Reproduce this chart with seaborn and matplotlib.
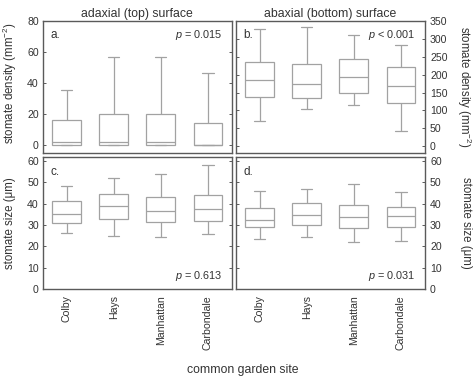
import numpy as np
import pandas as pd
import matplotlib
matplotlib.use("Agg")
import matplotlib.pyplot as plt
import seaborn as sns

# five-number summaries: [min, q1, median, q3, max]
sites = ["Colby", "Hays", "Manhattan", "Carbondale"]

adax_density = [[0, 0, 1.8, 15.9, 35.5],
                [0, 0, 1.8, 19.6, 57.0],
                [0, 0, 1.8, 19.6, 57.0],
                [0, 0, 0.0, 14.2, 46.5]]
abax_density = [[70.6, 138, 186, 236, 329],
                [103, 136, 174, 231, 334],
                [116, 149, 193, 244, 312],
                [41, 120, 169, 221, 285]]
adax_size = [[26.1, 30.8, 35.2, 41.3, 48.3],
             [24.8, 32.8, 38.8, 44.4, 52.2],
             [24.5, 31.3, 36.4, 43.3, 53.9],
             [25.6, 32.0, 37.4, 44.2, 58.1]]
abax_size = [[23.3, 28.9, 32.5, 37.8, 46.1],
             [24.4, 29.9, 34.5, 40.2, 46.7],
             [22.2, 28.5, 33.6, 39.4, 49.1],
             [22.7, 29.1, 34.2, 38.6, 45.6]]

p_labels = ["0.015", "< 0.001", "0.613", "0.031"]
panel_letters = ["a.", "b.", "c.", "d."]


def long_df(summ):
    rows = []
    for site, vals in zip(sites, summ):
        for v in vals:
            rows.append({"site": site, "value": v})
    return pd.DataFrame(rows)


sns.set_style("white")
plt.rcParams["font.family"] = ["Liberation Sans", "DejaVu Sans"]
plt.rcParams["mathtext.fontset"] = "custom"
plt.rcParams["mathtext.rm"] = "Liberation Sans"
plt.rcParams["mathtext.it"] = "Liberation Sans:italic"
plt.rcParams["mathtext.default"] = "regular"

txt = "#333333"
frame = "#5a5a5a"
boxc = "#a2a2a2"

fig = plt.figure(figsize=(4.74, 3.79), dpi=100)
pos = [[0.0907, 0.5963, 0.3977, 0.3470],
       [0.4979, 0.5963, 0.3977, 0.3470],
       [0.0907, 0.2375, 0.3977, 0.3483],
       [0.4979, 0.2375, 0.3977, 0.3483]]
datasets = [adax_density, abax_density, adax_size, abax_size]
ylims = [(-5.5, 80), (-20, 350), (0, 61.9), (0, 61.9)]
yticks = [np.arange(0, 81, 20), np.arange(0, 351, 50),
          np.arange(0, 61, 10), np.arange(0, 61, 10)]

for i in range(4):
    ax = fig.add_axes(pos[i])
    df = long_df(datasets[i])
    sns.boxplot(data=df, x="site", y="value", order=sites, ax=ax,
                whis=(0, 100), width=0.61, color="white", linecolor=boxc,
                linewidth=0.9, showfliers=False, capwidths=0.24)
    ax.set_xlim(-0.5, 3.5)
    ax.set_ylim(*ylims[i])
    ax.set_yticks(yticks[i])
    ax.set_xlabel("")
    ax.set_ylabel("")
    for s in ax.spines.values():
        s.set_color(frame)
        s.set_linewidth(1.0)
    right = i % 2 == 1
    ax.tick_params(axis="y", direction="in", length=2.5, width=0.7,
                   color=frame, labelsize=7.6, labelcolor=txt,
                   left=True, right=True, labelleft=not right,
                   labelright=right, pad=3 if not right else 4)
    if i < 2:
        ax.tick_params(axis="x", length=0, labelbottom=False)
    else:
        ax.tick_params(axis="x", length=0, labelsize=7.6, labelcolor=txt,
                       pad=4.5)
        for lab in ax.get_xticklabels():
            lab.set_rotation(90)
    ax.text(0.04, 0.9 if i < 2 else 0.89, panel_letters[i],
            transform=ax.transAxes, fontsize=8.5, color=txt,
            ha="left", va="center")
    ptxt = r"$\it{p}$ " + ("= " + p_labels[i] if not p_labels[i].startswith("<") else p_labels[i])
    ax.text(0.95, 0.9 if i < 2 else 0.1, ptxt, transform=ax.transAxes,
            fontsize=7.8, color=txt, ha="right", va="center")
    if i == 0:
        ax.set_title("adaxial (top) surface", fontsize=8.8, color=txt, pad=3)
    if i == 1:
        ax.set_title("abaxial (bottom) surface", fontsize=8.8, color=txt, pad=3)

fig.text(0.021, 1 - 83 / 379, "stomate density (mm$^{-2}$)", rotation=90,
         fontsize=8.3, color=txt, ha="center", va="center")
fig.text(0.021, 1 - 223 / 379, "stomate size (μm)", rotation=90,
         fontsize=8.3, color=txt, ha="center", va="center")
fig.text(0.979, 1 - 87 / 379, "stomate density (mm$^{-2}$)", rotation=270,
         fontsize=8.3, color=txt, ha="center", va="center")
fig.text(0.984, 1 - 223 / 379, "stomate size (μm)", rotation=270,
         fontsize=8.3, color=txt, ha="center", va="center")
fig.text(0.512, 1 - 370 / 379, "common garden site", fontsize=8.8,
         color=txt, ha="center", va="center")

fig.savefig("out.png", dpi=100)
